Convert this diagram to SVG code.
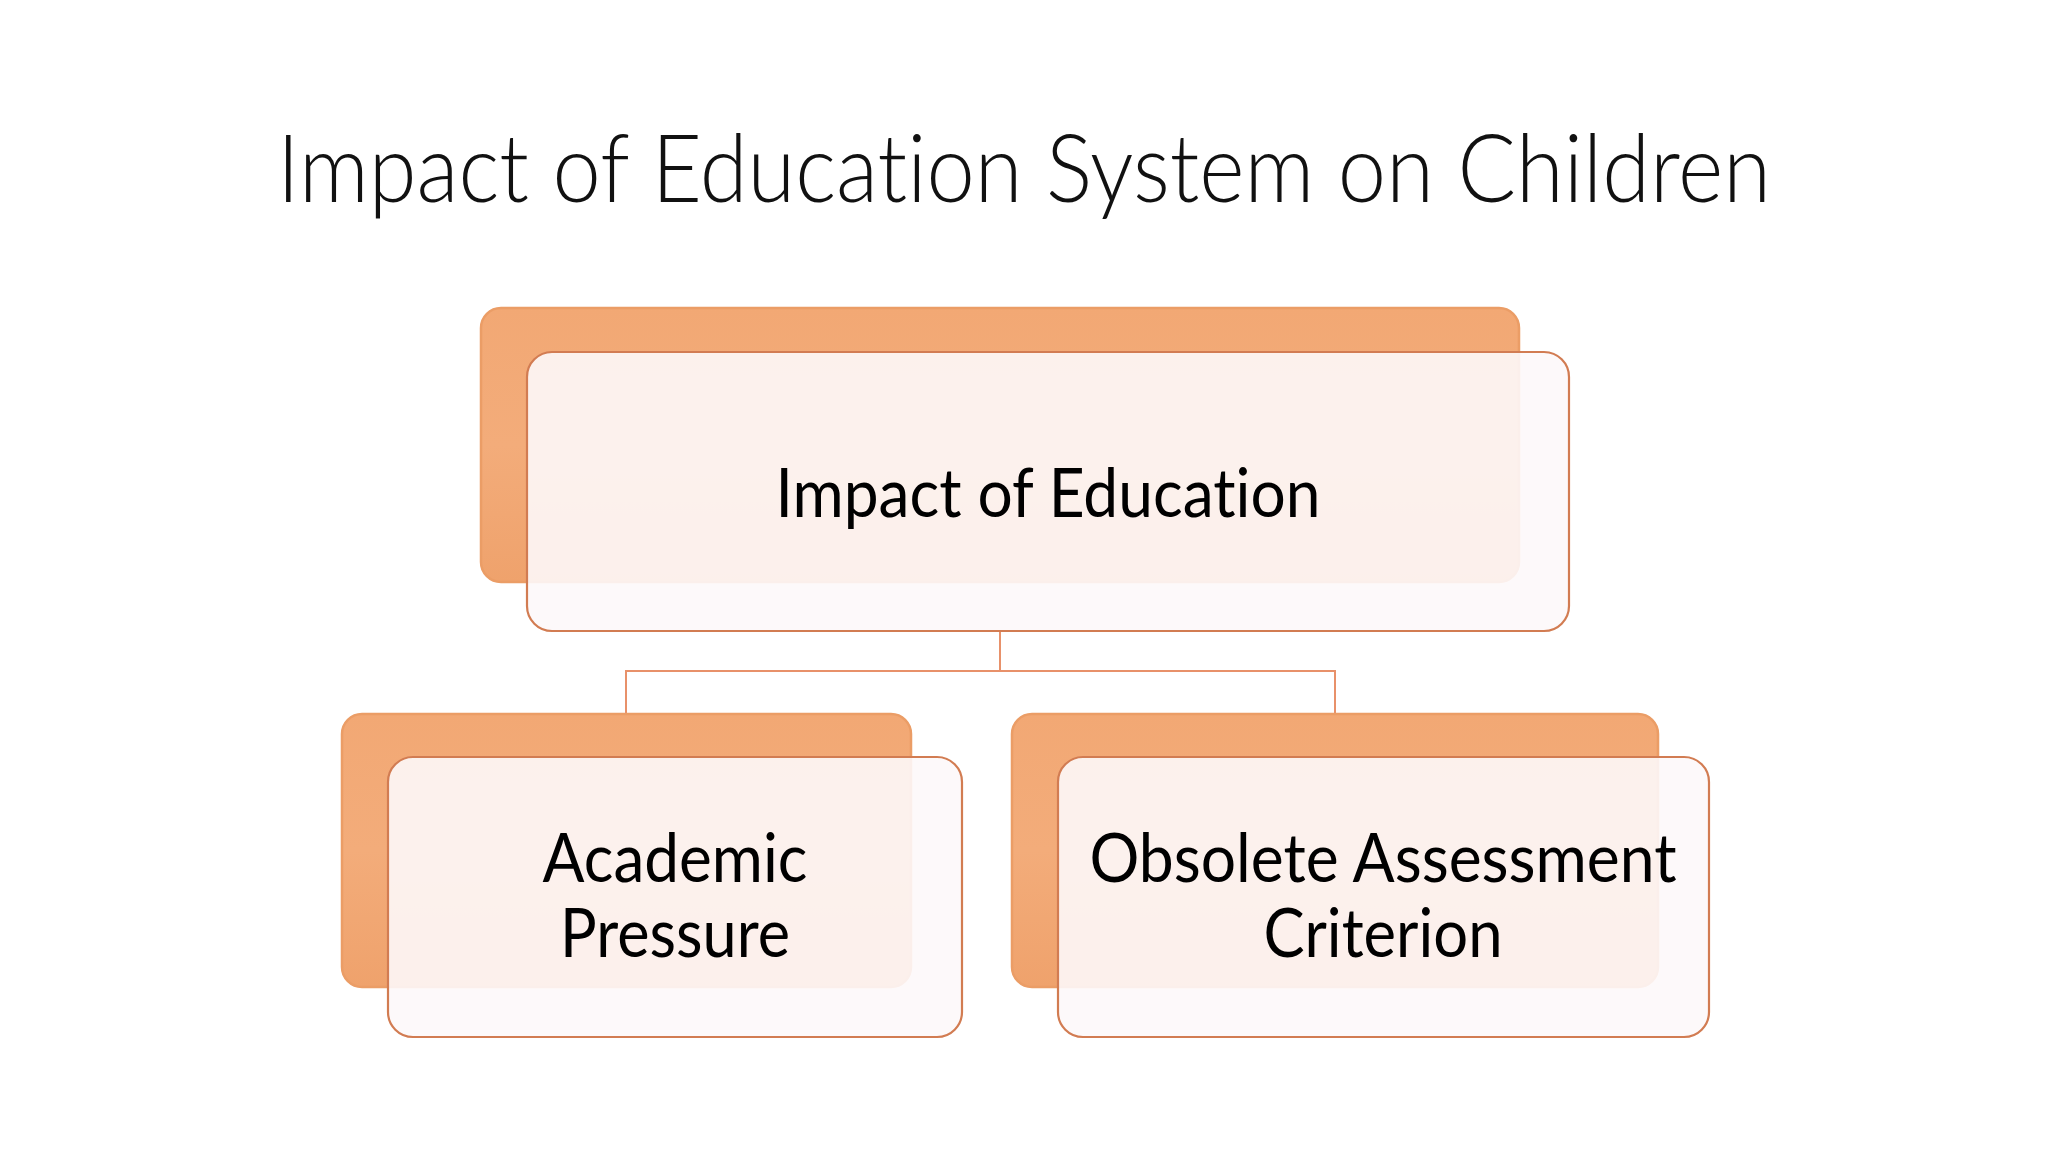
<svg xmlns="http://www.w3.org/2000/svg" width="2048" height="1152" viewBox="0 0 2048 1152">
  <defs>
    <linearGradient id="backGrad" x1="0" y1="0" x2="0" y2="1">
      <stop offset="0" stop-color="#F2A874"/>
      <stop offset="0.5" stop-color="#F3AC7A"/>
      <stop offset="1" stop-color="#EFA26C"/>
    </linearGradient>
    <style>
      .back { fill: url(#backGrad); stroke: #EB9D66; stroke-width: 2.5; }
      .front { fill: #FDF8FA; fill-opacity: 0.9; stroke: #D27C52; stroke-width: 2.2; }
      .conn { fill: none; stroke: #E8916A; stroke-width: 2; }
      .title { font-family: Lato, "Open Sans", "Liberation Sans", sans-serif; font-weight: 300; font-size: 94px; fill: #111111; font-variant-ligatures: none; font-feature-settings: "liga" 0, "dlig" 0, "clig" 0; }
      .label { font-family: Lato, "Open Sans", "Liberation Sans", sans-serif; font-size: 67px; fill: #000000; text-anchor: middle; font-variant-ligatures: none; font-feature-settings: "liga" 0, "dlig" 0, "clig" 0; }
    </style>
  </defs>
  <rect x="0" y="0" width="2048" height="1152" fill="#FFFFFF"/>

  <text class="title" x="277" y="202" textLength="1494" lengthAdjust="spacingAndGlyphs">Impact of Education System on Children</text>

  <g id="connectors">
    <path class="conn" d="M1000 631 V671 M626 714 V671 H1335 V714"/>
  </g>

  <g id="node-impact">
    <rect class="back" x="481" y="308" width="1038" height="274" rx="20" ry="20"/>
    <rect class="front" x="527" y="352" width="1042" height="279" rx="25" ry="25"/>
    <text class="label" x="1048" y="517" textLength="545" lengthAdjust="spacingAndGlyphs">Impact of Education</text>
  </g>

  <g id="node-academic">
    <rect class="back" x="342" y="714" width="569" height="273" rx="20" ry="20"/>
    <rect class="front" x="388" y="757" width="574" height="280" rx="25" ry="25"/>
    <text class="label" x="675" y="882" textLength="265" lengthAdjust="spacingAndGlyphs">Academic</text>
    <text class="label" x="675" y="957" textLength="230" lengthAdjust="spacingAndGlyphs">Pressure</text>
  </g>

  <g id="node-obsolete">
    <rect class="back" x="1012" y="714" width="646" height="273" rx="20" ry="20"/>
    <rect class="front" x="1058" y="757" width="651" height="280" rx="25" ry="25"/>
    <text class="label" x="1383" y="882" textLength="587" lengthAdjust="spacingAndGlyphs">Obsolete Assessment</text>
    <text class="label" x="1383" y="957" textLength="239" lengthAdjust="spacingAndGlyphs">Criterion</text>
  </g>
</svg>
